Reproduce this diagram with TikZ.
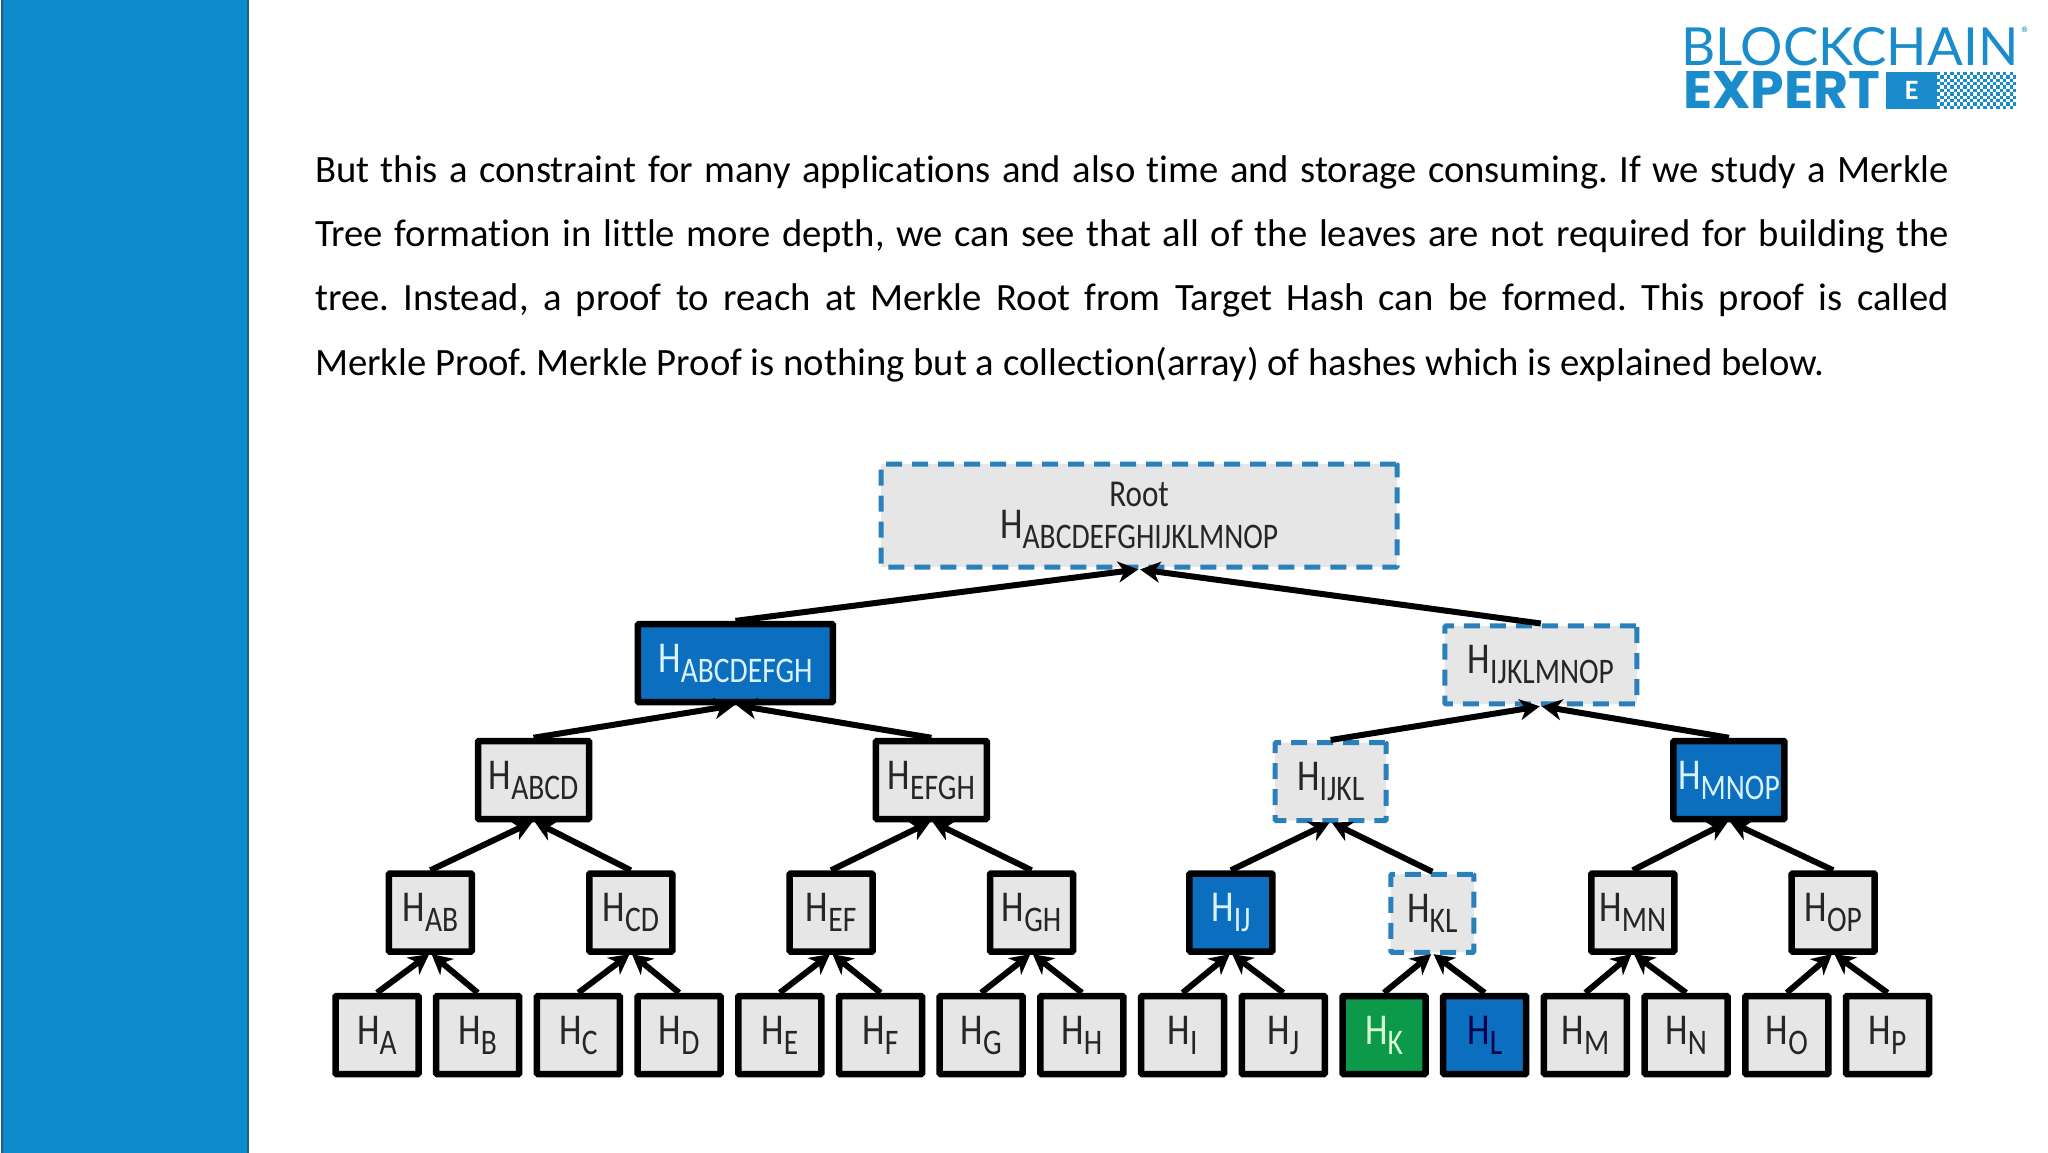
\documentclass[tikz,border=0pt]{standalone}
\usepackage{fontspec}
\setmainfont{Carlito}[Ligatures=NoCommon]
\newfontfamily\hashfont[FakeStretch=0.82]{Carlito}
\newfontfamily\logofont{Lato}
\newfontfamily\logobold{Poppins}
\usetikzlibrary{positioning}
\usetikzlibrary{arrows.meta}
\usetikzlibrary{calc}
\definecolor{sidebar}{HTML}{0E8BCD}
\definecolor{sideline}{HTML}{1F5F8B}
\definecolor{logoblue}{HTML}{1B8CCB}
\definecolor{boxgray}{HTML}{E6E6E6}
\definecolor{boxblue}{HTML}{0B6EBE}
\definecolor{boxgreen}{HTML}{0C9A4A}
\definecolor{dashblue}{HTML}{2A80BB}
\newcommand{\hashtxt}[1]{{\hashfont\fontsize{44}{44}\selectfont H\raisebox{-10pt}{\fontsize{36}{36}\selectfont #1}}}

\begin{document}
\begin{tikzpicture}[x=1pt,y=-1pt,
 hashbox/.style={draw=black,line width=6.5pt,fill=boxgray,rounded corners=1pt,
 inner sep=0pt,minimum width=83pt,minimum height=78pt,text=black!85},
 bluebox/.style={hashbox,fill=boxblue,text=cyan!15},
 dashbox/.style={hashbox,draw=dashblue,line width=5pt,dash pattern=on 16pt off 10pt},
 link/.style={line width=6pt,-{Stealth[length=20pt,width=21pt,inset=6pt]},shorten >=-1pt}]

  \useasboundingbox (0,0) rectangle (2048,1152);
  \filldraw[fill=sidebar,draw=sideline,line width=2pt] (2,-3) rectangle (248,1155);

  % logo
  \node[anchor=south west,inner sep=0pt,text=logoblue] (brand) at (1681,66)
   {\resizebox{337pt}{38pt}{\logofont BLOCKCHAIN}};
  \node[text=logoblue,inner sep=0pt,font=\fontsize{18}{18}\selectfont] (regmark) at (2026,33) {®};
  \node[anchor=south west,inner sep=0pt,text=logoblue] (expert) at (1683,109)
   {\resizebox{197pt}{37pt}{\logobold\bfseries EXPERT}};
  \node[fill=logoblue,text=white,inner sep=0pt,minimum width=51pt,minimum height=37pt,
   anchor=west,font=\bfseries\fontsize{28}{28}\selectfont] (tag) at (1886,90.5) {E};
  \foreach \X in {0,...,23}
   \foreach \Y in {0,...,10}
   {\pgfmathparse{int(mod(\X+\Y,2))}
    \ifnum\pgfmathresult=0
     \fill[logoblue] (1937+\X*3.3,72+\Y*3.36) rectangle ++(3.3,3.36);
    \fi}

  % text
  \node[anchor=north west,inner sep=0pt,text width=1634pt,align=justify,text=black,
   font=\frenchspacing\fontsize{38.65}{64.4}\selectfont] (para) at (315,155)
   {But this a constraint for many applications and also time and storage consuming. If we study a Merkle\linebreak
    Tree formation in little more depth, we can see that all of the leaves are not required for building the\linebreak
    tree. Instead, a proof to reach at Merkle Root from Target Hash can be formed. This proof is called\linebreak
    Merkle Proof. Merkle Proof is nothing but a collection(array) of hashes which is explained below.};

  % leaves
  \node[hashbox] (HA) at (377,1035) {\hashtxt{A}};
  \foreach \X/\Y in {B/A,C/B,D/C,E/D,F/E,G/F,H/G,I/H,J/I}
   {\node[hashbox,right=11.2pt of H\Y] (H\X) {\hashtxt{\X}};}
  \node[hashbox,fill=boxgreen,text=green!15,right=11.2pt of HJ] (HK) {\hashtxt{K}};
  \node[bluebox,text=black!70!blue,right=11.2pt of HK] (HL) {\hashtxt{L}};
  \foreach \X/\Y in {M/L,N/M,O/N,P/O}
   {\node[hashbox,right=11.2pt of H\Y] (H\X) {\hashtxt{\X}};}

  % pairs of leaves
  \foreach \X/\Y/\Z/\S in {A/B/hashbox/3,C/D/hashbox/2,E/F/hashbox/1,G/H/hashbox/0,
   I/J/bluebox/-2,K/L/dashbox/-2,M/N/hashbox/-3,O/P/hashbox/-4}
   {\node[\Z,xshift=\S pt,above=38pt of $(H\X.north)!0.5!(H\Y.north)$] (H\X\Y) {\hashtxt{\X\Y}};
    \draw[link] (H\X.north) -- ([xshift=-2pt]H\X\Y.south);
    \draw[link] (H\Y.north) -- ([xshift=2pt]H\X\Y.south);
   }

  % pairs of pairs
  \foreach \X/\Y/\Z/\W/\S in {AB/CD/hashbox/ABCD/3,EF/GH/hashbox/EFGH/0,IJ/KL/dashbox/IJKL/-1,MN/OP/bluebox/MNOP/-4}
   {\node[\Z,minimum width=111pt,xshift=\S pt,above=48pt of $(H\X.north)!0.5!(H\Y.north)$] (H\W) {\hashtxt{\W}};
    \draw[link] (H\X.north) -- ([xshift=-2pt]H\W.south);
    \draw[link] (H\Y.north) -- ([xshift=2pt]H\W.south);
   }

  % top of the tree
  \node[bluebox,minimum width=195pt,xshift=3pt,above=32.4pt of $(HABCD.north)!0.5!(HEFGH.north)$] (HAH) {\hashtxt{ABCDEFGH}};
  \node[dashbox,minimum width=192pt,xshift=11pt,above=32.4pt of $(HIJKL.north)!0.5!(HMNOP.north)$] (HIP) {\hashtxt{IJKLMNOP}};
  \draw[link] (HABCD.north) -- ([xshift=-2pt]HAH.south);
  \draw[link] (HEFGH.north) -- ([xshift=2pt]HAH.south);
  \draw[link] (HIJKL.north) -- ([xshift=-2pt]HIP.south);
  \draw[link] (HMNOP.north) -- ([xshift=2pt]HIP.south);

  \node[dashbox,minimum width=516pt,minimum height=103pt,align=center,xshift=1pt,
   above=52.6pt of $(HAH.north)!0.5!(HIP.north)$] (root)
   {{\hashfont\fontsize{38}{46}\selectfont Root}\\[2pt]\hashtxt{ABCDEFGHIJKLMNOP}};
  \draw[link] (HAH.north) -- ([xshift=-2pt]root.south);
  \draw[link] (HIP.north) -- ([xshift=2pt]root.south);

\end{tikzpicture}
\end{document}
